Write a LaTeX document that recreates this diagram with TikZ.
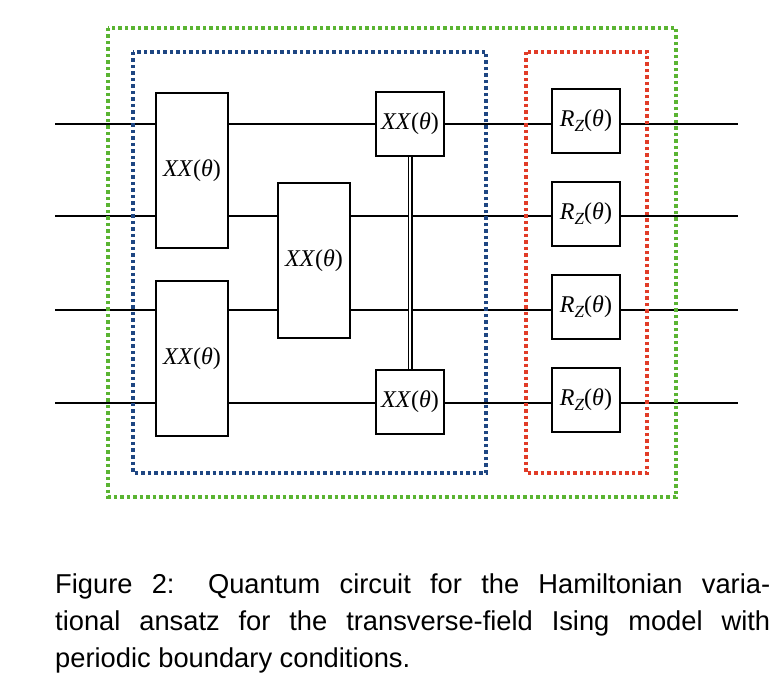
\documentclass[tikz,border=0pt]{standalone}
\usepackage{fontspec}
\setmainfont{Liberation Sans}
\newfontfamily\gatefont{Liberation Serif}
\begin{document}
\begin{tikzpicture}[x=1pt,y=-1pt,
  wire/.style={line width=1.8pt},
  gate/.style={draw,line width=1.5pt,fill=white,inner sep=0pt,font=\gatefont\fontsize{24}{26}\selectfont},
  dots/.style={line width=3.5pt,dash pattern=on 3.5pt off 3pt}]
\useasboundingbox (0,0) rectangle (782,700);
\definecolor{dgreen}{RGB}{90,180,50}
\definecolor{dblue}{RGB}{30,70,130}
\definecolor{dred}{RGB}{225,60,40}
\foreach \y/\n in {124/a,216/b,310/c,403/d}{
  \coordinate (L\n) at (55,\y); \coordinate (R\n) at (738,\y);
  \draw[wire] (L\n) -- (R\n);}
\node[gate,minimum width=72pt,minimum height=155pt] (g1) at (192,170.5) {\textit{XX}(\textit{θ})};
\node[gate,minimum width=72pt,minimum height=155pt] (g2) at (192,358.5) {\textit{XX}(\textit{θ})};
\node[gate,minimum width=72pt,minimum height=155pt] (g3) at (314,260.5) {\textit{XX}(\textit{θ})};
\node[gate,minimum width=68pt,minimum height=64pt] (g4) at (410,124) {\textit{XX}(\textit{θ})};
\node[gate,minimum width=68pt,minimum height=64pt] (g5) at (410,402) {\textit{XX}(\textit{θ})};
\draw[line width=1.4pt,double distance=2.2pt] (g4.south) -- (g5.north);
\foreach \y/\n in {121/1,214/2,307/3,400/4}
  \node[gate,minimum width=68pt,minimum height=64pt] (r\n) at (586,\y) {\textit{R}\raisebox{-0.4ex}{\fontsize{17}{17}\selectfont\textit{Z}}(\textit{θ})};
\draw[dots,dgreen] (108,28) rectangle (676,497);
\draw[dots,dblue] (133,52) rectangle (486,473);
\draw[dots,dred] (526,52) rectangle (647,473);
\begin{scope}[every node/.style={anchor=base west,inner sep=0pt,font=\fontsize{27.3}{32}\selectfont}]
\node (c1) at (55,593) {\makebox[715pt][s]{Figure 2:  Quantum circuit for the Hamiltonian varia-}};
\node (c2) at (55,630) {\makebox[715pt][s]{tional ansatz for the transverse-field Ising model with}};
\node (c3) at (55,667) {periodic boundary conditions.};
\end{scope}
\end{tikzpicture}
\end{document}
